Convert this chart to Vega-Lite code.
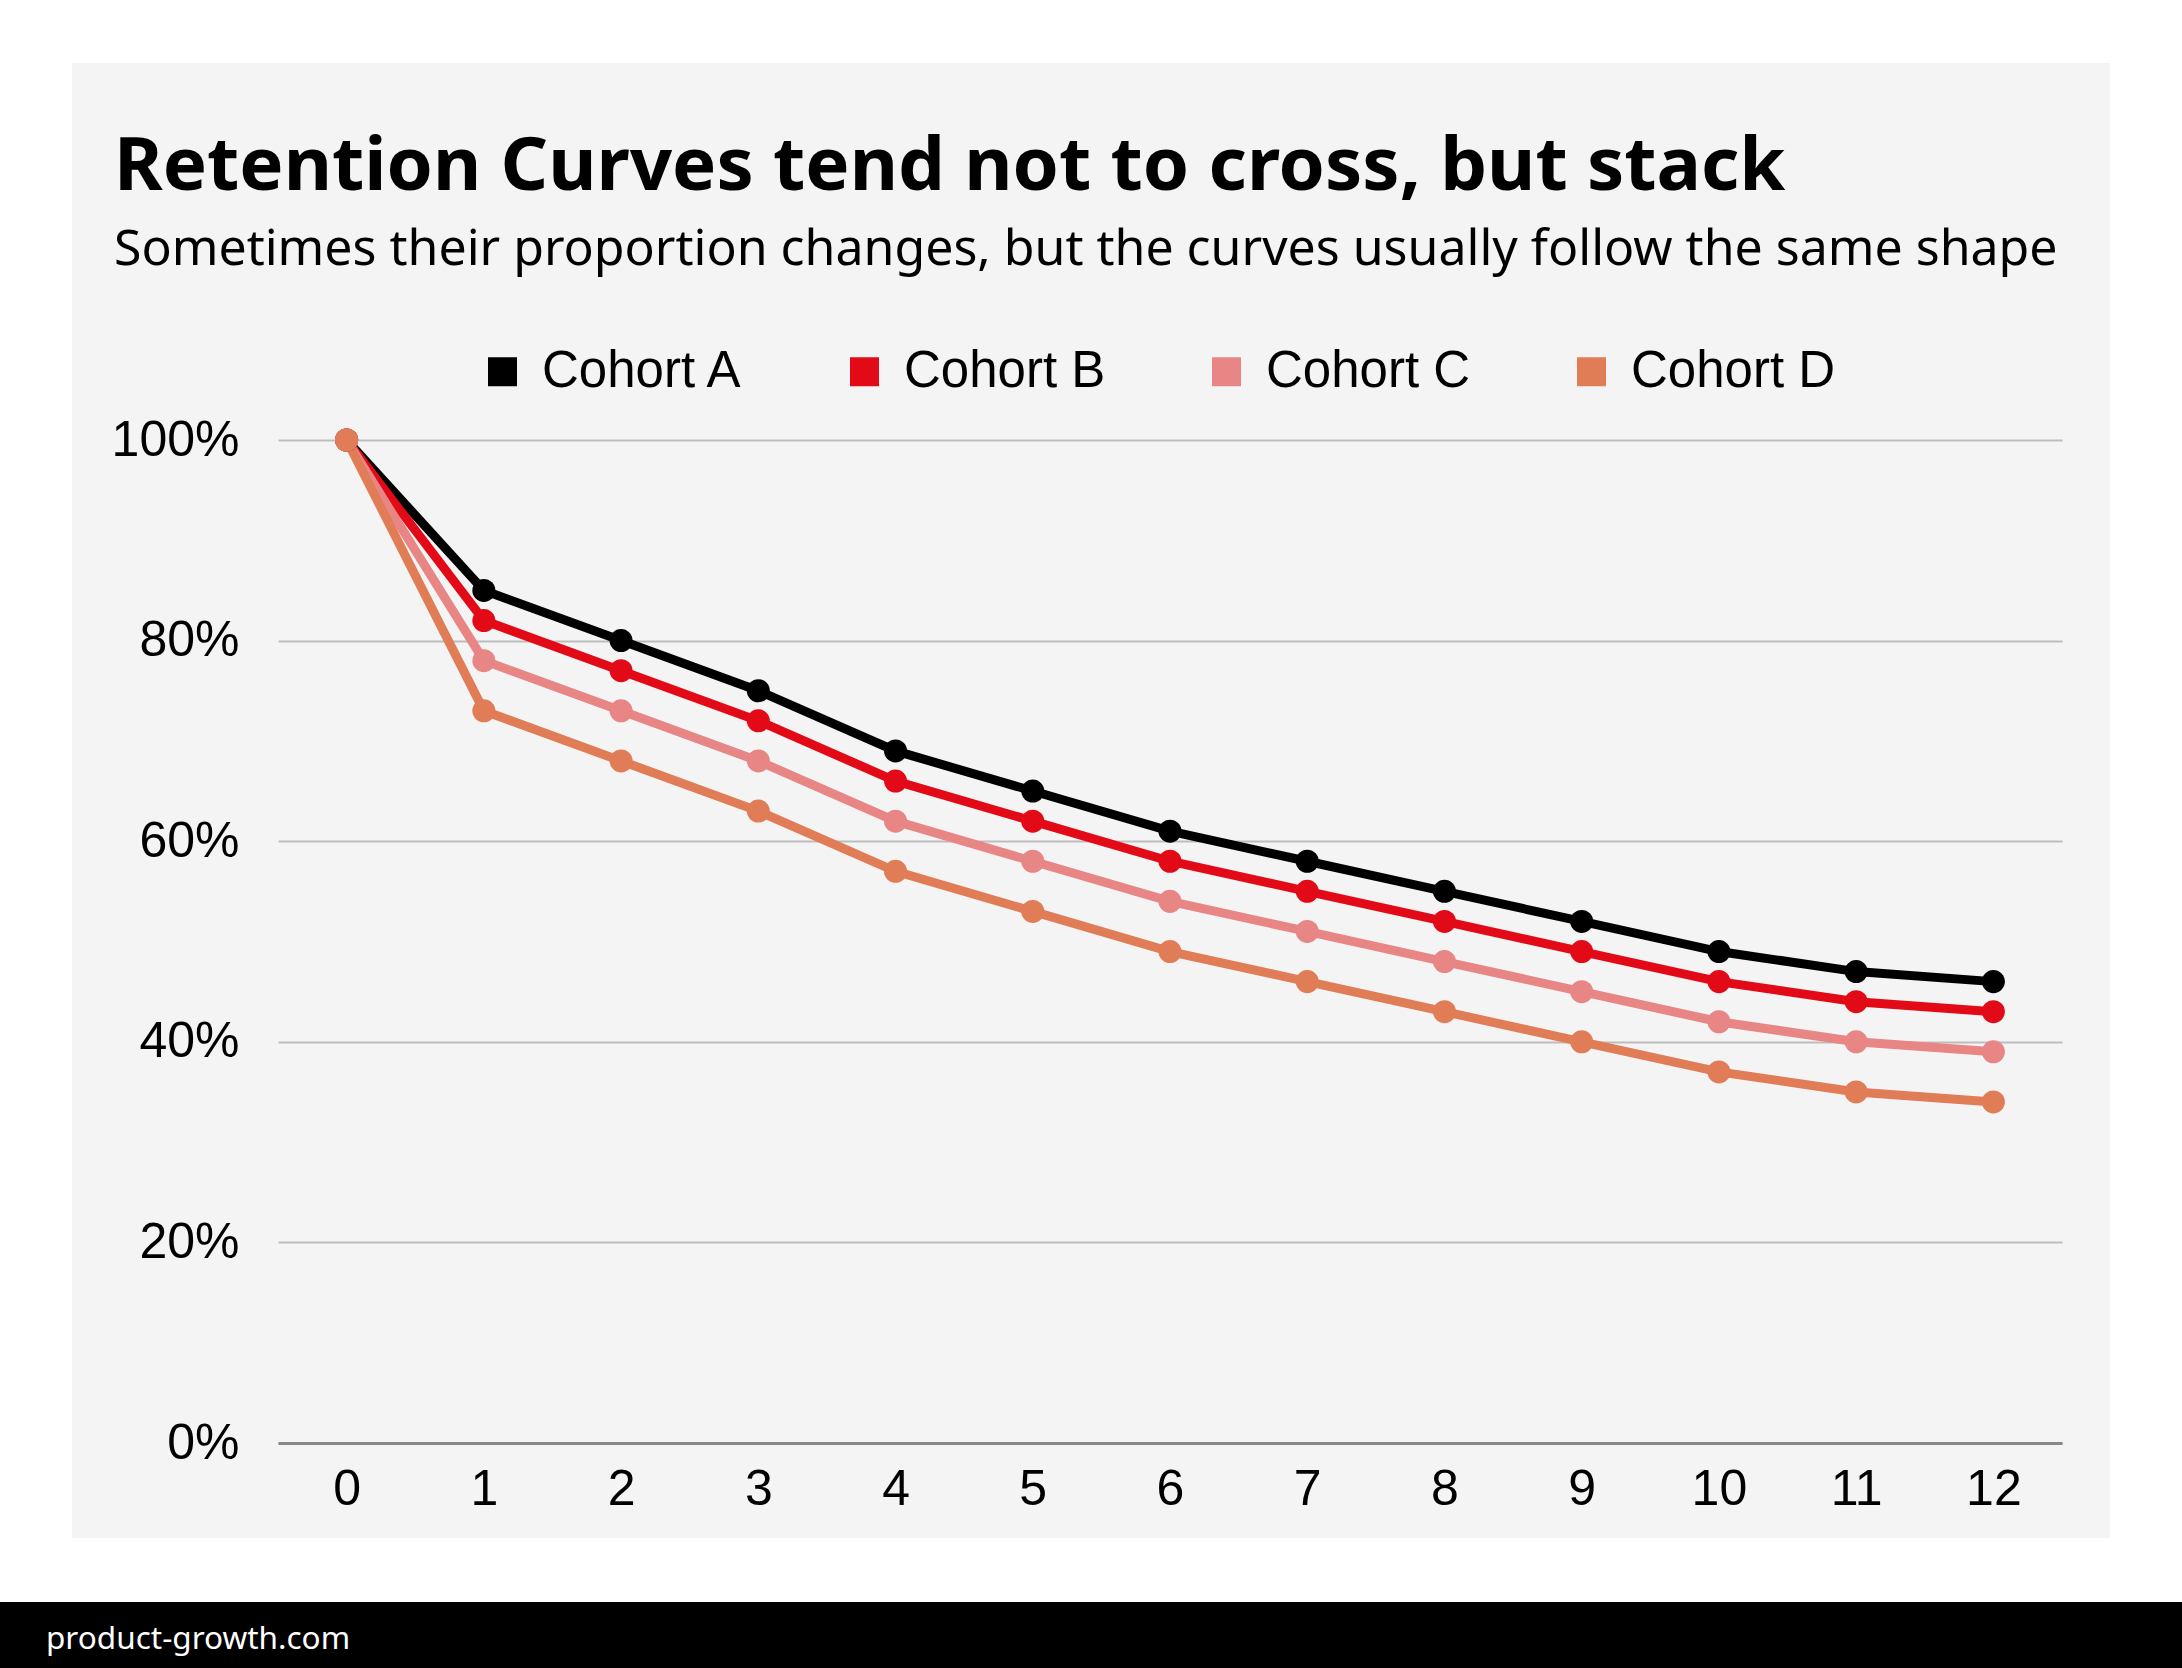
{
  "$schema": "https://vega.github.io/schema/vega-lite/v6.json",
  "background": "#ffffff",
  "padding": {"top": 63, "left": 0, "right": 0, "bottom": 0},
  "config": {"view": {"stroke": null}},
  "spacing": 64,
  "vconcat": [
    {
      "spacing": 71,
      "hconcat": [
        {
          "width": 1,
          "height": 1,
          "data": {"values": []},
          "mark": "point",
          "view": {"stroke": null}
        },
        {
          "width": 2038,
          "height": 1475,
          "view": {"fill": "#f4f4f4", "stroke": null},
          "title": {
            "text": "Retention Curves tend not to cross, but stack",
            "subtitle": "Sometimes their proportion changes, but the curves usually follow the same shape",
            "anchor": "start",
            "frame": "group",
            "orient": "top",
            "offset": -212,
            "dx": 42,
            "font": "Noto Sans",
            "fontSize": 74.3,
            "fontWeight": 700,
            "color": "#000000",
            "subtitleFont": "Noto Sans",
            "subtitleFontSize": 50,
            "subtitleColor": "#000000",
            "subtitlePadding": 20
          },
          "data": {
            "values": [
              {"cohort": "Cohort A", "month": 0, "retention": 1.0},
              {"cohort": "Cohort A", "month": 1, "retention": 0.85},
              {"cohort": "Cohort A", "month": 2, "retention": 0.80},
              {"cohort": "Cohort A", "month": 3, "retention": 0.75},
              {"cohort": "Cohort A", "month": 4, "retention": 0.69},
              {"cohort": "Cohort A", "month": 5, "retention": 0.65},
              {"cohort": "Cohort A", "month": 6, "retention": 0.61},
              {"cohort": "Cohort A", "month": 7, "retention": 0.58},
              {"cohort": "Cohort A", "month": 8, "retention": 0.55},
              {"cohort": "Cohort A", "month": 9, "retention": 0.52},
              {"cohort": "Cohort A", "month": 10, "retention": 0.49},
              {"cohort": "Cohort A", "month": 11, "retention": 0.47},
              {"cohort": "Cohort A", "month": 12, "retention": 0.46},
              {"cohort": "Cohort B", "month": 0, "retention": 1.0},
              {"cohort": "Cohort B", "month": 1, "retention": 0.82},
              {"cohort": "Cohort B", "month": 2, "retention": 0.77},
              {"cohort": "Cohort B", "month": 3, "retention": 0.72},
              {"cohort": "Cohort B", "month": 4, "retention": 0.66},
              {"cohort": "Cohort B", "month": 5, "retention": 0.62},
              {"cohort": "Cohort B", "month": 6, "retention": 0.58},
              {"cohort": "Cohort B", "month": 7, "retention": 0.55},
              {"cohort": "Cohort B", "month": 8, "retention": 0.52},
              {"cohort": "Cohort B", "month": 9, "retention": 0.49},
              {"cohort": "Cohort B", "month": 10, "retention": 0.46},
              {"cohort": "Cohort B", "month": 11, "retention": 0.44},
              {"cohort": "Cohort B", "month": 12, "retention": 0.43},
              {"cohort": "Cohort C", "month": 0, "retention": 1.0},
              {"cohort": "Cohort C", "month": 1, "retention": 0.78},
              {"cohort": "Cohort C", "month": 2, "retention": 0.73},
              {"cohort": "Cohort C", "month": 3, "retention": 0.68},
              {"cohort": "Cohort C", "month": 4, "retention": 0.62},
              {"cohort": "Cohort C", "month": 5, "retention": 0.58},
              {"cohort": "Cohort C", "month": 6, "retention": 0.54},
              {"cohort": "Cohort C", "month": 7, "retention": 0.51},
              {"cohort": "Cohort C", "month": 8, "retention": 0.48},
              {"cohort": "Cohort C", "month": 9, "retention": 0.45},
              {"cohort": "Cohort C", "month": 10, "retention": 0.42},
              {"cohort": "Cohort C", "month": 11, "retention": 0.40},
              {"cohort": "Cohort C", "month": 12, "retention": 0.39},
              {"cohort": "Cohort D", "month": 0, "retention": 1.0},
              {"cohort": "Cohort D", "month": 1, "retention": 0.73},
              {"cohort": "Cohort D", "month": 2, "retention": 0.68},
              {"cohort": "Cohort D", "month": 3, "retention": 0.63},
              {"cohort": "Cohort D", "month": 4, "retention": 0.57},
              {"cohort": "Cohort D", "month": 5, "retention": 0.53},
              {"cohort": "Cohort D", "month": 6, "retention": 0.49},
              {"cohort": "Cohort D", "month": 7, "retention": 0.46},
              {"cohort": "Cohort D", "month": 8, "retention": 0.43},
              {"cohort": "Cohort D", "month": 9, "retention": 0.40},
              {"cohort": "Cohort D", "month": 10, "retention": 0.37},
              {"cohort": "Cohort D", "month": 11, "retention": 0.35},
              {"cohort": "Cohort D", "month": 12, "retention": 0.34}
            ]
          },
          "encoding": {
            "x": {
              "field": "month",
              "type": "ordinal",
              "scale": {"type": "point", "padding": 0.5, "range": [206, 1990]},
              "axis": {
                "orient": "bottom",
                "offset": -95,
                "title": null,
                "labelAngle": 0,
                "domain": true,
                "domainColor": "#888888",
                "domainWidth": 3,
                "ticks": false,
                "grid": false,
                "labelFont": "Liberation Sans",
                "labelFontSize": 50,
                "labelColor": "#000000",
                "labelPadding": 21,
                "zindex": 1
              }
            },
            "y": {
              "field": "retention",
              "type": "quantitative",
              "scale": {"domain": [0, 1], "range": [1380, 377], "nice": false},
              "axis": {
                "orient": "left",
                "offset": -206,
                "title": null,
                "format": ".0%",
                "values": [0, 0.2, 0.4, 0.6, 0.8, 1],
                "domain": false,
                "ticks": false,
                "grid": true,
                "gridColor": "#bdbdbd",
                "gridWidth": 2,
                "labelFont": "Liberation Sans",
                "labelFontSize": 50,
                "labelColor": "#000000",
                "labelPadding": 39
              }
            },
            "color": {
              "field": "cohort",
              "type": "nominal",
              "scale": {
                "domain": ["Cohort A", "Cohort B", "Cohort C", "Cohort D"],
                "range": ["#000000", "#e30a17", "#e88585", "#e07c56"]
              },
              "legend": {
                "orient": "none",
                "legendX": 477,
                "legendY": 283,
                "direction": "horizontal",
                "title": null,
                "padding": 0,
                "symbolType": "square",
                "symbolSize": 841,
                "symbolStrokeWidth": 0,
                "symbolOpacity": 1,
                "labelFont": "Liberation Sans",
                "labelFontSize": 51,
                "labelColor": "#000000",
                "labelOffset": 14,
                "labelLimit": 500,
                "columnPadding": 95,
                "encode": {
                  "symbols": {
                    "update": {
                      "fill": {"scale": "color", "field": "value"},
                      "stroke": {"value": "transparent"}
                    }
                  }
                }
              }
            }
          },
          "layer": [
            {"mark": {"type": "line", "strokeWidth": 9}},
            {"mark": {"type": "point", "filled": true, "size": 530, "opacity": 1}}
          ]
        }
      ]
    },
    {
      "width": 2182,
      "height": 66,
      "view": {"fill": "#000000", "stroke": null},
      "data": {"values": []},
      "mark": "point",
      "title": {
        "text": "product-growth.com",
        "anchor": "start",
        "frame": "group",
        "orient": "top",
        "offset": -53,
        "dx": 46,
        "font": "Noto Sans",
        "fontSize": 31.5,
        "fontWeight": 400,
        "color": "#ffffff"
      }
    }
  ]
}
